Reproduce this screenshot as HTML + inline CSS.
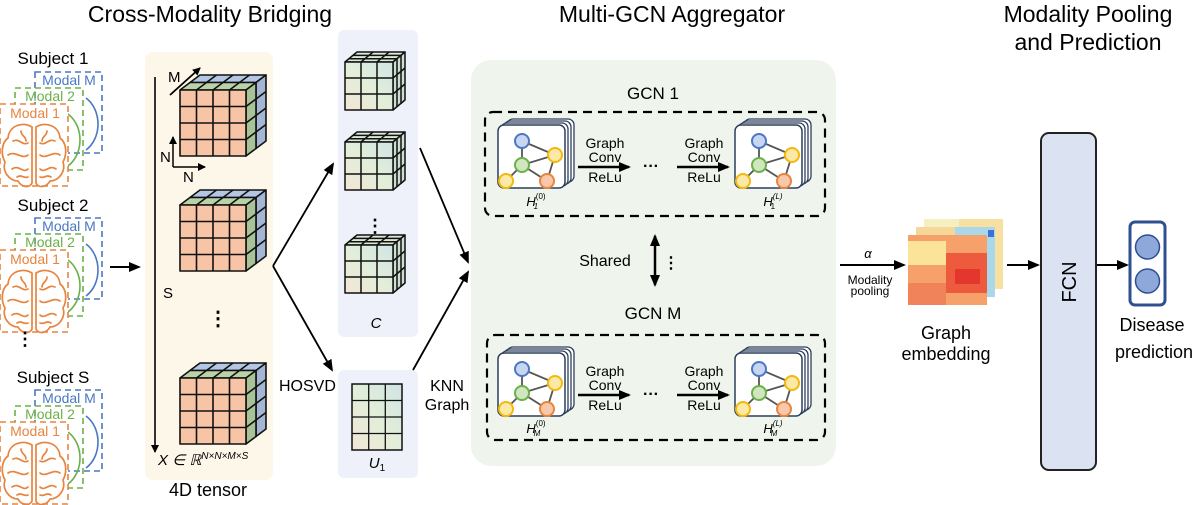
<!DOCTYPE html>
<html><head><meta charset="utf-8"><style>
html,body{margin:0;padding:0;background:#fff}
svg{display:block}
text{font-family:"Liberation Sans",sans-serif}
</style></head><body>
<svg width="1200" height="505" viewBox="0 0 1200 505" xmlns="http://www.w3.org/2000/svg">
<defs>
<marker id="ah" markerWidth="8" markerHeight="8" refX="7" refY="4" orient="auto" markerUnits="userSpaceOnUse"><path d="M0,0 L8,4 L0,8 z" fill="#000"/></marker>
<marker id="ahb" markerWidth="12" markerHeight="10" refX="10" refY="5" orient="auto-start-reverse" markerUnits="userSpaceOnUse"><path d="M0,0 L12,5 L0,10 z" fill="#000"/></marker>
<g id="bigcube" stroke="#111" stroke-width="1.6" stroke-linejoin="round">
 <polygon points="10,-7.5 20,-15 86,-15 76,-7.5" fill="#b4c6e4"/>
 <polygon points="0,0 10,-7.5 76,-7.5 66,0" fill="#b9d3a8"/>
 <polygon points="76,-7.5 86,-15 86,51 76,58.5" fill="#a4b6d4"/>
 <polygon points="66,0 76,-7.5 76,58.5 66,66" fill="#a8c497"/>
 <rect x="0" y="0" width="66" height="66" fill="#f7c5a5"/>
 <path d="M16.5,0V66M33,0V66M49.5,0V66M0,16.5H66M0,33H66M0,49.5H66" fill="none"/>
 <path d="M26.5,-7.5L16.5,0M43,-7.5L33,0M59.5,-7.5L49.5,0M36.5,-15L26.5,-7.5M53,-15L43,-7.5M69.5,-15L59.5,-7.5M66,16.5L76,9M66,33L76,25.5M66,49.5L76,42M76,9L86,1.5M76,25.5L86,18M76,42L86,34.5"/>
</g>
<linearGradient id="sg" x1="0" y1="1" x2="1" y2="0"><stop offset="0" stop-color="#f3e6d6"/><stop offset="0.5" stop-color="#e2eed9"/><stop offset="1" stop-color="#cfe4e4"/></linearGradient>
<g id="smallcube" stroke="#111" stroke-width="1.5" stroke-linejoin="round">
 <polygon points="0,0 12,-10 60,-10 48,0" fill="#dbe9d6"/>
 <polygon points="48,0 60,-10 60,38 48,48" fill="#cddfd0"/>
 <rect x="0" y="0" width="48" height="48" fill="url(#sg)"/>
 <path d="M16,0V48M32,0V48M0,16H48M0,32H48M4,-3.3H52M8,-6.6H56M16,0L28,-10M32,0L44,-10M48,16L60,6M48,32L60,22M52,-3.3V44.7M56,-6.6V41.4" fill="none"/>
</g>
<g id="brain" fill="none" stroke="#e8843e" stroke-width="1.7" stroke-linecap="round">
 <path d="M32,6 C22,0 9,5 8,17 C1,22 1,34 5,41 C2,50 9,60 18,60 C22,67 30,67 32,62 Z"/>
 <path d="M36,6 C46,0 59,5 60,17 C67,22 67,34 63,41 C66,50 59,60 50,60 C46,67 38,67 36,62 Z"/>
 <path d="M13,20 C20,17 22,25 28,22 M8,34 C15,29 22,39 28,34 M12,48 C19,43 23,53 28,48 M21,10 C21,15 26,15 26,20 M55,20 C48,17 46,25 40,22 M60,34 C53,29 46,39 40,34 M56,48 C49,43 45,53 40,48 M47,10 C47,15 42,15 42,20 M17,56 C22,53 24,58 28,56 M51,56 C46,53 44,58 40,56"/>
</g>
<g id="subj">
 <rect x="35" y="0" width="67" height="81" fill="none" stroke="#4a78c4" stroke-width="1.6" stroke-dasharray="6,4"/>
 <text x="69" y="13" font-size="14" fill="#4a78c4" text-anchor="middle">Modal M</text>
 <path d="M86,26 C102,38 102,66 86,78" fill="none" stroke="#4a78c4" stroke-width="1.6"/>
 <rect x="15" y="16" width="68" height="82" fill="none" stroke="#6cb04a" stroke-width="1.6" stroke-dasharray="6,4"/>
 <text x="50" y="29" font-size="14" fill="#6cb04a" text-anchor="middle">Modal 2</text>
 <path d="M68,42 C84,54 84,82 68,94" fill="none" stroke="#6cb04a" stroke-width="1.6"/>
 <rect x="0" y="32" width="68" height="82" fill="#fff" stroke="#e8843e" stroke-width="1.6" stroke-dasharray="6,4"/>
 <text x="35" y="46" font-size="14" fill="#e8843e" text-anchor="middle">Modal 1</text>
 <use href="#brain" x="0" y="49"/>
</g>
<g id="gicon">
 <rect x="9" y="-6" width="67" height="63" rx="6" fill="#fff" stroke="#2c3e5c" stroke-width="1.3"/>
 <rect x="6" y="-4" width="67" height="63" rx="6" fill="#fff" stroke="#2c3e5c" stroke-width="1.3"/>
 <rect x="3" y="-2" width="67" height="63" rx="6" fill="#fff" stroke="#2c3e5c" stroke-width="1.3"/>
 <rect x="0" y="0" width="67" height="63" rx="6" fill="#fff" stroke="#2c3e5c" stroke-width="1.5"/>
 <g stroke="#555" stroke-width="1.8" fill="none"><path d="M24,16L24,40L8,56M24,16L57,30L24,40L49,56L57,30"/></g>
 <circle cx="24" cy="16" r="7" fill="#c9d6f2" stroke="#4a78c4" stroke-width="2"/>
 <circle cx="57" cy="30" r="7" fill="#fde9a6" stroke="#f2b90f" stroke-width="2"/>
 <circle cx="24" cy="40" r="7" fill="#cfe6bf" stroke="#6cb04a" stroke-width="2"/>
 <circle cx="8" cy="56" r="7" fill="#fde9a6" stroke="#f2b90f" stroke-width="2"/>
 <circle cx="49" cy="56" r="7" fill="#f9c8aa" stroke="#e8843e" stroke-width="2"/>
</g>
<g id="gcnrow">
 <use href="#gicon" x="0" y="0"/>
 <use href="#gicon" x="237" y="0"/>
 <text font-size="14" text-anchor="middle"><tspan x="107" y="23">Graph</tspan><tspan x="107" y="37">Conv</tspan><tspan x="107" y="57">ReLu</tspan></text>
 <text font-size="14" text-anchor="middle"><tspan x="206" y="23">Graph</tspan><tspan x="206" y="37">Conv</tspan><tspan x="206" y="57">ReLu</tspan></text>
 <line x1="80" y1="42" x2="131" y2="42" stroke="#000" stroke-width="2.5" marker-end="url(#ahb)"/>
 <line x1="179" y1="42" x2="230" y2="42" stroke="#000" stroke-width="2.5" marker-end="url(#ahb)"/>
 <text x="153" y="46" font-size="16" text-anchor="middle" font-weight="bold">···</text>
</g>
</defs>

<!-- titles -->
<text x="210" y="22" font-size="23" text-anchor="middle">Cross-Modality Bridging</text>
<text x="672" y="22" font-size="23" text-anchor="middle">Multi-GCN Aggregator</text>
<text x="1088" y="22" font-size="23" text-anchor="middle">Modality Pooling</text>
<text x="1088" y="50" font-size="23" text-anchor="middle">and Prediction</text>

<!-- subjects -->
<text x="53" y="64" font-size="17" text-anchor="middle">Subject 1</text>
<use href="#subj" x="0" y="72"/>
<text x="53" y="211" font-size="17" text-anchor="middle">Subject 2</text>
<use href="#subj" x="0" y="218"/>
<text x="25" y="345" font-size="18" text-anchor="middle" font-weight="bold">⋮</text>
<text x="53" y="383" font-size="17" text-anchor="middle">Subject S</text>
<use href="#subj" x="0" y="390"/>
<line x1="110" y1="267" x2="139" y2="267" stroke="#000" stroke-width="2" marker-end="url(#ahb)"/>

<!-- yellow panel -->
<rect x="145" y="52" width="128" height="428" rx="8" fill="#fdf7e9"/>
<line x1="155" y1="77" x2="155" y2="452" stroke="#000" stroke-width="1.6" marker-end="url(#ah)"/>
<text x="163" y="298" font-size="15">S</text>
<use href="#bigcube" x="180" y="90"/>
<use href="#bigcube" x="180" y="205"/>
<use href="#bigcube" x="180" y="378"/>
<line x1="170" y1="95" x2="200" y2="68" stroke="#000" stroke-width="1.8" marker-end="url(#ah)"/>
<text x="168" y="82" font-size="15">M</text>
<line x1="173" y1="167" x2="173" y2="137" stroke="#000" stroke-width="1.5" marker-end="url(#ah)"/>
<line x1="173" y1="167" x2="205" y2="167" stroke="#000" stroke-width="1.5" marker-end="url(#ah)"/>
<text x="160" y="162" font-size="15">N</text>
<text x="183" y="182" font-size="15">N</text>
<text x="218" y="325" font-size="20" text-anchor="middle" font-weight="bold">⋮</text>
<text x="158" y="465" font-size="15" font-family="Liberation Serif" font-style="italic">X ∈ ℝ<tspan font-size="10" dy="-6">N×N×M×S</tspan></text>
<text x="208" y="496" font-size="18" text-anchor="middle">4D tensor</text>

<!-- HOSVD arrows -->
<line x1="273" y1="266" x2="333" y2="164" stroke="#000" stroke-width="1.8" marker-end="url(#ahb)"/>
<line x1="273" y1="266" x2="332" y2="370" stroke="#000" stroke-width="1.8" marker-end="url(#ahb)"/>
<text x="279" y="391" font-size="16">HOSVD</text>

<!-- blue panels -->
<rect x="338" y="30" width="80" height="307" rx="6" fill="#eef1f9"/>
<use href="#smallcube" x="345" y="62"/>
<use href="#smallcube" x="345" y="142"/>
<use href="#smallcube" x="345" y="245"/>
<text x="375" y="232" font-size="18" text-anchor="middle" font-weight="bold">⋮</text>
<text x="376" y="328" font-size="15" font-style="italic" font-family="Liberation Serif" text-anchor="middle">C</text>
<rect x="338" y="370" width="80" height="108" rx="6" fill="#eef1f9"/>
<rect x="352" y="384" width="50" height="66" fill="url(#sg)" stroke="#111" stroke-width="1.5"/>
<path d="M368.7,384V450M385.3,384V450M352,400.5H402M352,417H402M352,433.5H402" stroke="#111" stroke-width="1.3"/>
<text x="377" y="468" font-size="15" font-style="italic" font-family="Liberation Serif" text-anchor="middle">U<tspan font-size="10" dy="3" font-style="normal">1</tspan></text>
<line x1="420" y1="148" x2="468" y2="262" stroke="#000" stroke-width="1.8" marker-end="url(#ahb)"/>
<line x1="413" y1="370" x2="468" y2="272" stroke="#000" stroke-width="1.8" marker-end="url(#ahb)"/>
<text x="447" y="391" font-size="16" text-anchor="middle">KNN</text>
<text x="447" y="410" font-size="16" text-anchor="middle">Graph</text>

<!-- green panel -->
<rect x="471" y="60" width="365" height="406" rx="20" fill="#eff5ec"/>
<text x="653" y="99" font-size="17" text-anchor="middle">GCN 1</text>
<rect x="485" y="112" width="340" height="104" rx="8" fill="none" stroke="#000" stroke-width="2.2" stroke-dasharray="9,6"/>
<use href="#gcnrow" x="498" y="125"/>
<text x="536" y="206" font-size="13" font-family="Liberation Serif" font-style="italic" text-anchor="middle">H<tspan font-size="8" dy="-7" font-style="normal">(0)</tspan><tspan font-size="8" dx="-12" dy="10">1</tspan></text>
<text x="773" y="206" font-size="13" font-family="Liberation Serif" font-style="italic" text-anchor="middle">H<tspan font-size="8" dy="-7">(L)</tspan><tspan font-size="8" dx="-12" dy="10" font-style="normal">1</tspan></text>
<line x1="655" y1="236" x2="655" y2="285" stroke="#000" stroke-width="2.5" marker-start="url(#ahb)" marker-end="url(#ahb)"/>
<text x="605" y="266" font-size="16" text-anchor="middle">Shared</text>
<text x="671" y="268" font-size="16" text-anchor="middle" font-weight="bold">⋮</text>
<text x="653" y="319" font-size="17" text-anchor="middle">GCN M</text>
<rect x="487" y="335" width="338" height="105" rx="8" fill="none" stroke="#000" stroke-width="2.2" stroke-dasharray="9,6"/>
<use href="#gcnrow" x="498" y="353"/>
<text x="536" y="433" font-size="13" font-family="Liberation Serif" font-style="italic" text-anchor="middle">H<tspan font-size="8" dy="-7" font-style="normal">(0)</tspan><tspan font-size="8" dx="-12" dy="10">M</tspan></text>
<text x="773" y="433" font-size="13" font-family="Liberation Serif" font-style="italic" text-anchor="middle">H<tspan font-size="8" dy="-7">(L)</tspan><tspan font-size="8" dx="-12" dy="10">M</tspan></text>

<!-- pooling -->
<line x1="840" y1="265" x2="904" y2="265" stroke="#000" stroke-width="2" marker-end="url(#ahb)"/>
<text x="868" y="258" font-size="13" font-family="Liberation Serif" font-style="italic" text-anchor="middle">α</text>
<text x="870" y="284" font-size="12" text-anchor="middle">Modality</text>
<text x="870" y="295" font-size="12" text-anchor="middle">pooling</text>
<!-- heatmaps -->
<rect x="924" y="219" width="79" height="70" fill="#f7e0a0"/>
<rect x="924" y="219" width="35" height="70" fill="#f5f0c0"/>
<rect x="916" y="227" width="79" height="70" fill="#f6d79a"/>
<rect x="955" y="227" width="40" height="70" fill="#a8d8ea"/>
<rect x="988" y="230" width="6" height="7" fill="#3a70d8"/>
<rect x="908" y="235" width="79" height="70" fill="#f6a06a"/>
<rect x="908" y="241" width="38" height="24" fill="#fbe39a"/>
<rect x="946" y="253" width="41" height="40" fill="#ee5a3e"/>
<rect x="955" y="269" width="25" height="15" fill="#e3362c"/>
<rect x="908" y="283" width="38" height="22" fill="#f1835a"/>

<text x="946" y="339" font-size="18" text-anchor="middle">Graph</text>
<text x="946" y="360" font-size="18" text-anchor="middle">embedding</text>
<line x1="1007" y1="265" x2="1038" y2="265" stroke="#000" stroke-width="2" marker-end="url(#ahb)"/>
<rect x="1041" y="133" width="55" height="337" rx="8" fill="#dbe3f3" stroke="#222" stroke-width="2"/>
<text x="0" y="0" font-size="20" text-anchor="middle" transform="translate(1076,282) rotate(-90)">FCN</text>
<line x1="1097" y1="265" x2="1127" y2="265" stroke="#000" stroke-width="2" marker-end="url(#ahb)"/>
<rect x="1130" y="222" width="35" height="83" rx="5" fill="#fff" stroke="#2f4f8f" stroke-width="3"/>
<circle cx="1147.5" cy="247" r="12" fill="#8fa8dc" stroke="#2f4f8f" stroke-width="1.5"/>
<circle cx="1147.5" cy="281" r="12" fill="#8fa8dc" stroke="#2f4f8f" stroke-width="1.5"/>
<text x="1152" y="331" font-size="18" text-anchor="middle">Disease</text>
<text x="1154" y="358" font-size="18" text-anchor="middle">prediction</text>
</svg>
</body></html>
